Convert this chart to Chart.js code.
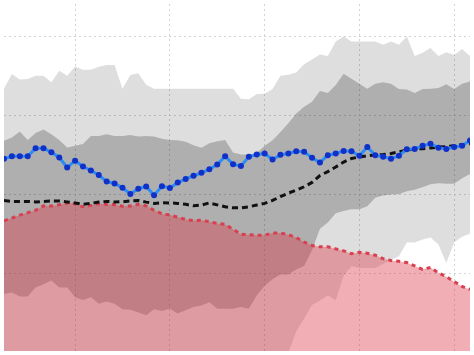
<!DOCTYPE html>
<html>
<head>
<meta charset="utf-8">
<script src="https://cdn.jsdelivr.net/npm/chart.js@4"></script>
<style>
  html, body { margin: 0; padding: 0; background: #fff; }
  #wrap { width: 474px; height: 355px; position: relative; }
</style>
</head>
<body>
<div id="wrap"><canvas id="fan"></canvas></div>
<script>
/* periods (monthly, gridline every 12) */
const periods = Array.from({length: 60}, (_, i) => i);
const yearTicks = [9, 21, 33, 45, 57];
const levelTicks = [10, 20, 30, 40];

/* observed series */
const observed = [24.53,24.85,24.85,24.85,25.84,25.84,25.35,24.69,23.42,24.28,
  23.54,23.05,22.47,21.64,21.40,20.86,20.09,20.74,21.02,19.91,
  21.07,20.83,21.52,21.98,22.38,22.75,23.21,23.79,24.85,23.83,
  23.62,24.78,25.06,25.19,24.44,25.02,25.19,25.47,25.40,24.65,
  24.04,24.98,25.19,25.52,25.47,24.90,26.01,24.98,24.78,24.53,
  24.90,25.72,25.77,26.17,26.42,25.93,25.77,26.01,26.17,26.83];

/* gray fan: median + bands */
const median = [19.26,19.14,19.14,19.14,19.07,19.14,19.20,19.20,19.07,18.95,
  18.77,18.89,19.07,19.14,19.07,19.10,19.20,19.26,19.05,18.89,
  18.98,18.95,18.89,18.77,18.58,18.68,18.95,18.70,18.46,18.33,
  18.33,18.46,18.68,18.89,19.26,19.75,20.19,20.56,20.99,21.54,
  22.41,22.90,23.49,24.11,24.57,24.75,24.90,25.00,25.06,25.19,
  25.40,25.62,25.74,25.80,25.89,25.99,26.05,26.17,26.30,26.42];

const outerHigh = [33.37,35.22,34.53,34.60,35.02,35.02,34.20,35.64,35.02,36.17,
  35.77,35.77,36.14,36.38,36.38,33.37,35.10,35.31,33.86,33.37,
  33.37,33.37,33.37,33.37,33.37,33.37,33.37,33.37,33.37,33.37,
  32.10,32.04,32.72,32.75,33.33,35.02,35.15,35.43,36.46,37.07,
  37.69,37.49,39.35,39.96,39.35,39.35,39.35,39.35,38.93,39.35,
  38.93,39.96,37.49,37.90,38.52,37.49,37.99,37.62,38.40,37.49];

const innerHigh = [26.79,27.20,27.96,26.91,27.78,28.21,27.62,26.91,25.96,26.17,
  26.38,27.41,27.41,27.62,27.41,27.41,27.53,27.35,27.41,27.35,
  27.04,26.91,26.85,26.67,26.23,25.93,26.48,26.73,26.91,25.31,
  25.06,25.06,25.25,26.17,26.85,27.90,29.01,30.25,31.11,31.73,
  33.09,32.84,33.83,35.25,34.63,33.99,33.37,33.99,34.20,34.01,
  33.33,33.27,32.84,33.33,33.37,33.46,33.95,33.33,33.99,34.28];

const innerLow = [7.44,7.65,7.12,7.12,8.27,8.68,9.14,8.27,8.27,7.04,
  6.70,7.04,6.21,6.51,6.21,5.52,5.47,5.10,4.78,5.52,
  5.31,5.59,4.98,5.40,5.80,6.01,6.42,5.59,5.59,5.59,
  5.80,5.59,7.25,8.48,9.30,9.91,9.91,10.53,10.99,12.96,
  15.68,16.48,17.65,17.94,18.15,18.15,18.52,19.59,19.88,20.00,
  20.06,20.43,20.62,20.93,21.30,21.42,21.36,21.36,22.06,22.59];

const outerLow = [-6.5,-6.2,-6.8,-6.4,-5.9,-5.6,-5.3,-5.8,-6.1,-6.6,
  -6.9,-6.5,-7.0,-6.8,-7.2,-7.5,-7.3,-7.6,-7.9,-7.4,
  -7.6,-7.2,-7.7,-7.3,-6.9,-6.6,-6.2,-6.8,-6.5,-6.3,
  -6.0,-5.2,-4.3,-3.1,-2.2,-1.1,0.0,2.72,4.36,6.05,
  6.63,7.28,6.67,9.75,10.95,10.74,10.74,10.74,11.23,11.73,
  12.22,13.95,13.95,14.32,14.57,13.70,11.36,13.95,14.69,15.06];

/* red threshold (filled below) */
const threshold = [16.70,17.04,17.41,17.72,18.02,18.58,18.56,18.73,18.95,18.83,
  18.46,18.64,18.85,18.77,18.73,18.52,18.56,18.77,18.58,18.02,
  17.59,17.41,17.16,16.85,16.73,16.75,16.58,16.36,16.23,15.62,
  15.00,14.94,14.88,14.88,15.15,15.15,14.94,14.57,14.01,13.58,
  13.40,13.40,13.15,12.90,12.53,12.72,12.59,12.35,11.91,11.67,
  11.57,11.42,10.99,10.56,10.80,10.12,9.63,9.01,8.40,8.02];

const semLinha = {pointRadius: 0, borderWidth: 0, tension: 0};

new Chart(document.getElementById("fan"), {
  type: "line",
  data: {
    labels: periods,
    datasets: [
      {data: observed, borderColor: "#2a8cf5", borderWidth: 3, tension: 0,
       pointRadius: 3, pointBorderWidth: 0, pointBackgroundColor: "#1030c8",
       fill: false, order: 0},
      {data: median, borderColor: "#111", borderWidth: 3, borderDash: [6, 4],
       pointRadius: 0, tension: 0, fill: false, order: 1},
      {data: threshold, borderColor: "#d8404f", borderWidth: 3, borderDash: [4, 4],
       pointRadius: 0, tension: 0, fill: "start",
       backgroundColor: "rgba(220,53,69,0.4)", order: 2},
      {...semLinha, data: innerHigh, fill: 4, backgroundColor: "rgba(0,0,0,0.21)", order: 3},
      {...semLinha, data: innerLow, fill: false, order: 4},
      {...semLinha, data: outerHigh, fill: 6, backgroundColor: "rgba(0,0,0,0.13)", order: 5},
      {...semLinha, data: outerLow, fill: false, order: 6}
    ]
  },
  options: {
    responsive: true,
    maintainAspectRatio: false,
    animation: false,
    layout: {padding: 0},
    plugins: {legend: {display: false}, tooltip: {enabled: false}},
    scales: {
      x: {
        type: "linear", min: 0, max: 59,
        afterBuildTicks: s => { s.ticks = yearTicks.map(v => ({value: v})); },
        ticks: {display: false},
        border: {display: false, dash: [2, 3]},
        grid: {color: "#d4d4d4", lineWidth: 1, drawTicks: false}
      },
      y: {
        min: 0.25, max: 44.07,
        afterBuildTicks: s => { s.ticks = levelTicks.map(v => ({value: v})); },
        ticks: {display: false},
        border: {display: false, dash: [2, 3]},
        grid: {color: "#d4d4d4", lineWidth: 1, drawTicks: false}
      }
    }
  }
});
</script>
</body>
</html>
